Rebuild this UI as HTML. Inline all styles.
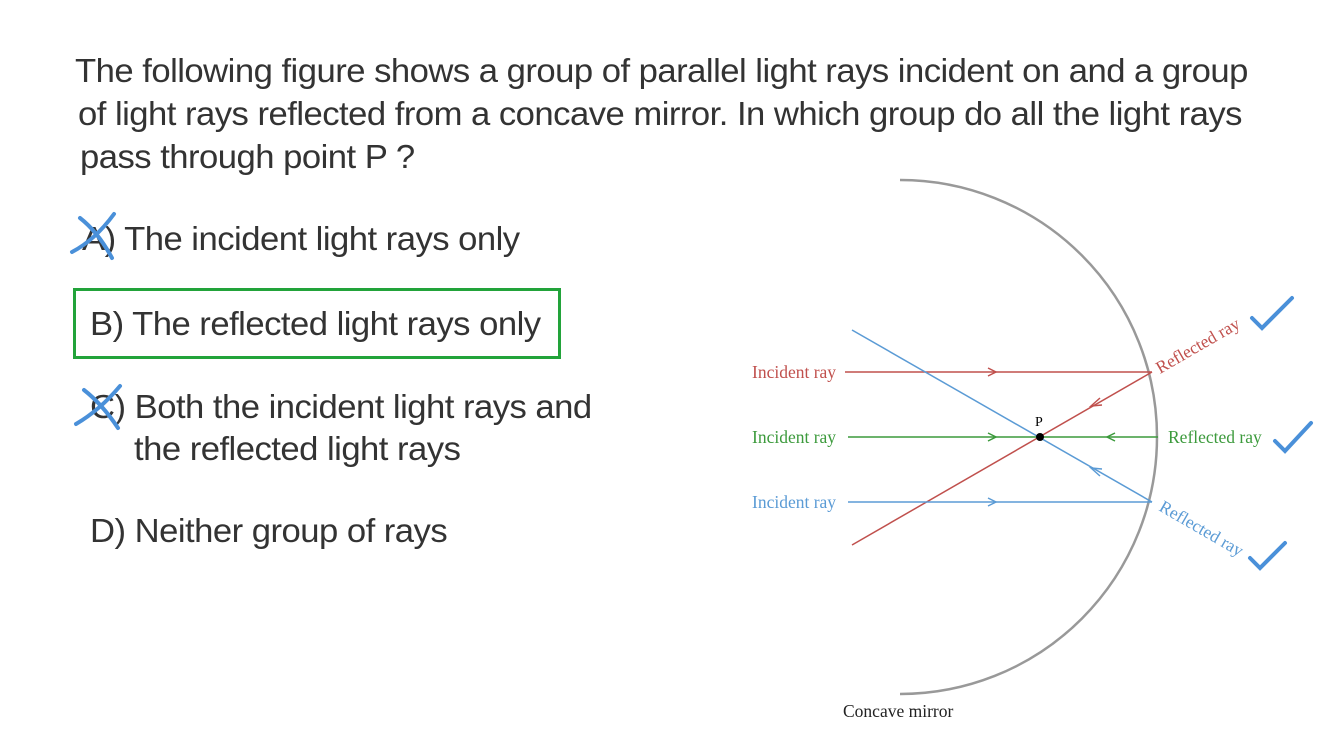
<!DOCTYPE html>
<html><head><meta charset="utf-8"><style>
html,body{margin:0;padding:0;background:#fff;}
body{width:1344px;height:756px;position:relative;overflow:hidden;font-family:"Liberation Sans",sans-serif;}
.t{position:absolute;color:#333;font-size:33px;white-space:nowrap;letter-spacing:-0.5px;transform:scaleX(1.05);transform-origin:left top;}
</style></head><body>
<div class="t" style="left:75px;top:52px">The following figure shows a group of parallel light rays incident on and a group</div>
<div class="t" style="left:78px;top:95px">of light rays reflected from a concave mirror. In which group do all the light rays</div>
<div class="t" style="left:80px;top:138px">pass through point P ?</div>
<div class="t" style="left:82px;top:220px">A) The incident light rays only</div>
<div style="position:absolute;left:73px;top:288px;width:482px;height:65px;border:3px solid #22a33a;"></div>
<div class="t" style="left:90px;top:305px">B) The reflected light rays only</div>
<div class="t" style="left:90px;top:388px">C) Both the incident light rays and</div>
<div class="t" style="left:134px;top:430px">the reflected light rays</div>
<div class="t" style="left:90px;top:512px">D) Neither group of rays</div>
<svg width="1344" height="756" style="position:absolute;left:0;top:0" font-family="Liberation Serif,serif" font-size="17.5">
<g stroke="#4a90d9" stroke-width="4" fill="none" stroke-linecap="round">
<path d="M72 252 Q95 240 114 214"/><path d="M80 218 Q98 232 112 258"/>
<path d="M76 424 Q100 410 120 386"/><path d="M84 390 Q102 404 118 428"/>
<path d="M1252 318 l10 10 l30 -30"/>
<path d="M1275 441 l10 10 l26 -28"/>
<path d="M1250 558 l10 10 l25 -25"/>
</g>
<path d="M900 180 A257 257 0 0 1 900 694" fill="none" stroke="#999" stroke-width="2.5"/>
<g stroke-width="1.5">
<line x1="845" y1="372" x2="1152" y2="372" stroke="#c0504d"/>
<line x1="1152" y1="372" x2="852" y2="545" stroke="#c0504d"/>
<line x1="848" y1="437" x2="1158" y2="437" stroke="#3c9a3c"/>
<line x1="848" y1="502" x2="1152" y2="502" stroke="#5b9bd5"/>
<line x1="1152" y1="502" x2="852" y2="330" stroke="#5b9bd5"/>
</g>
<g fill="none" stroke-width="1.5">
<path d="M988 368 l8 4 l-8 4" stroke="#c0504d"/>
<path d="M988 433 l8 4 l-8 4" stroke="#3c9a3c"/>
<path d="M988 498 l8 4 l-8 4" stroke="#5b9bd5"/>
<path d="M1115 433 l-8 4 l8 4" stroke="#3c9a3c"/>
<path d="M1100 398 l-9 8 l11 -1" stroke="#c0504d"/>
<path d="M1100 476 l-9 -8 l11 1" stroke="#5b9bd5"/>
</g>
<circle cx="1040" cy="437" r="4" fill="#000"/>
<text x="1035" y="426" fill="#000" font-size="14">P</text>
<text x="752" y="378" fill="#c0504d">Incident ray</text>
<text x="752" y="443" fill="#3c9a3c">Incident ray</text>
<text x="752" y="508" fill="#5b9bd5">Incident ray</text>
<text x="1168" y="443" fill="#3c9a3c">Reflected ray</text>
<text x="1160" y="374" fill="#c0504d" transform="rotate(-30 1160 374)">Reflected ray</text>
<text x="1158" y="510" fill="#5b9bd5" transform="rotate(30 1158 510)">Reflected ray</text>
<text x="843" y="717" fill="#222">Concave mirror</text>
</svg>
</body></html>
